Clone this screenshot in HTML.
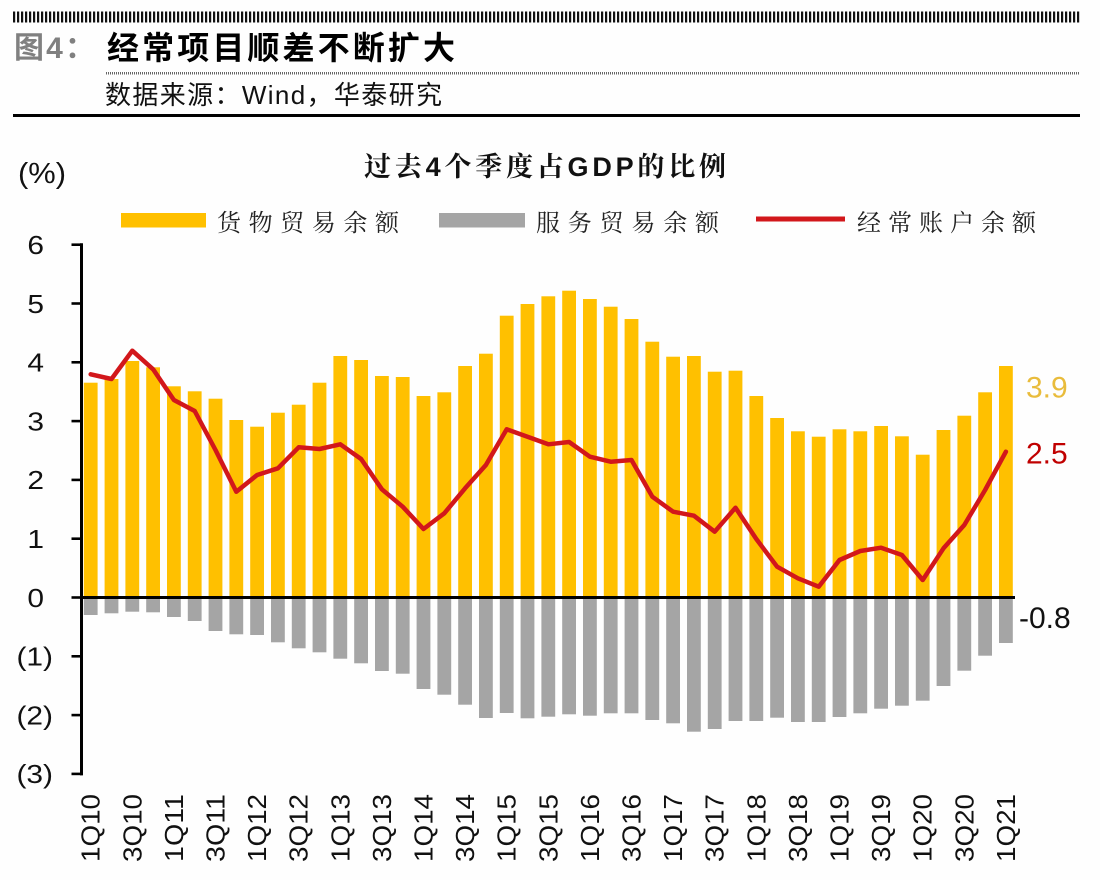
<!DOCTYPE html>
<html>
<head>
<meta charset="utf-8">
<style>
html,body{margin:0;padding:0;background:#fff;}
svg{display:block;}
</style>
</head>
<body>
<svg width="1100" height="880" viewBox="0 0 1100 880" xmlns="http://www.w3.org/2000/svg">
<defs>
<pattern id="hatch" x="13" y="0" width="4" height="12" patternUnits="userSpaceOnUse"><rect x="0" y="0" width="2.2" height="12" fill="#111"/></pattern>
<pattern id="dots" x="0" y="0" width="2" height="4" patternUnits="userSpaceOnUse"><rect x="0" y="0" width="1" height="4" fill="#666"/></pattern>
</defs>
<rect width="1100" height="880" fill="#fefefe"/>

<rect x="13" y="11.5" width="1067" height="11" fill="url(#hatch)"/>
<text x="14" y="58" font-family="Liberation Sans, Noto Sans CJK SC, sans-serif" font-weight="bold" font-size="30" fill="#808080" textLength="81" lengthAdjust="spacing">图4：</text>
<text x="107" y="59" font-family="Liberation Sans, Noto Sans CJK SC, sans-serif" font-weight="bold" font-size="32" fill="#000" textLength="348" lengthAdjust="spacing">经常项目顺差不断扩大</text>
<rect x="105" y="72" width="975" height="2.5" fill="url(#dots)"/>
<text x="105" y="104" font-family="Liberation Sans, Noto Sans CJK SC, sans-serif" font-size="26" fill="#111" textLength="337" lengthAdjust="spacing">数据来源：Wind，华泰研究</text>
<rect x="13" y="114" width="1067" height="3" fill="#000"/>

<text x="364" y="176" font-family="Liberation Sans, Noto Serif CJK SC, serif" font-weight="bold" font-size="27" fill="#111" textLength="362" lengthAdjust="spacing">过去4个季度占GDP的比例</text>
<text x="18" y="183" font-family="Liberation Sans, sans-serif" font-size="29" fill="#111" textLength="48" lengthAdjust="spacingAndGlyphs">(%)</text>

<rect x="121" y="213" width="85" height="14.5" fill="#FFC000"/>
<text x="217" y="231" font-family="Noto Serif CJK SC, serif" font-size="24" fill="#222" textLength="182" lengthAdjust="spacing">货物贸易余额</text>
<rect x="439" y="213" width="86" height="14.5" fill="#A5A5A5"/>
<text x="536" y="231" font-family="Noto Serif CJK SC, serif" font-size="24" fill="#222" textLength="183" lengthAdjust="spacing">服务贸易余额</text>
<rect x="756" y="216.5" width="89" height="5" fill="#D2171B"/>
<text x="857" y="231" font-family="Noto Serif CJK SC, serif" font-size="24" fill="#222" textLength="179" lengthAdjust="spacing">经常账户余额</text>

<g fill="#FFC000">
<rect x="83.8" y="382.7" width="13.8" height="214.8"/>
<rect x="104.6" y="379" width="13.8" height="218.5"/>
<rect x="125.4" y="361" width="13.8" height="236.5"/>
<rect x="146.2" y="367.3" width="13.8" height="230.2"/>
<rect x="167.0" y="386.3" width="13.8" height="211.2"/>
<rect x="187.8" y="391.3" width="13.8" height="206.2"/>
<rect x="208.6" y="398.7" width="13.8" height="198.8"/>
<rect x="229.4" y="420" width="13.8" height="177.5"/>
<rect x="250.2" y="426.7" width="13.8" height="170.8"/>
<rect x="271.0" y="412.7" width="13.8" height="184.8"/>
<rect x="291.8" y="404.7" width="13.8" height="192.8"/>
<rect x="312.6" y="382.7" width="13.8" height="214.8"/>
<rect x="333.4" y="356" width="13.8" height="241.5"/>
<rect x="354.2" y="360" width="13.8" height="237.5"/>
<rect x="375.0" y="376" width="13.8" height="221.5"/>
<rect x="395.8" y="377" width="13.8" height="220.5"/>
<rect x="416.6" y="396" width="13.8" height="201.5"/>
<rect x="437.4" y="392.3" width="13.8" height="205.2"/>
<rect x="458.2" y="366" width="13.8" height="231.5"/>
<rect x="479.0" y="353.7" width="13.8" height="243.8"/>
<rect x="499.8" y="315.7" width="13.8" height="281.8"/>
<rect x="520.6" y="304" width="13.8" height="293.5"/>
<rect x="541.4" y="296.3" width="13.8" height="301.2"/>
<rect x="562.2" y="290.7" width="13.8" height="306.8"/>
<rect x="583.0" y="299" width="13.8" height="298.5"/>
<rect x="603.8" y="306.7" width="13.8" height="290.8"/>
<rect x="624.6" y="319" width="13.8" height="278.5"/>
<rect x="645.4" y="341.7" width="13.8" height="255.8"/>
<rect x="666.2" y="356.7" width="13.8" height="240.8"/>
<rect x="687.0" y="356" width="13.8" height="241.5"/>
<rect x="707.8" y="371.7" width="13.8" height="225.8"/>
<rect x="728.6" y="370.7" width="13.8" height="226.8"/>
<rect x="749.4" y="396" width="13.8" height="201.5"/>
<rect x="770.2" y="418" width="13.8" height="179.5"/>
<rect x="791.0" y="431.3" width="13.8" height="166.2"/>
<rect x="811.8" y="436.7" width="13.8" height="160.8"/>
<rect x="832.6" y="429.3" width="13.8" height="168.2"/>
<rect x="853.4" y="431.3" width="13.8" height="166.2"/>
<rect x="874.2" y="426" width="13.8" height="171.5"/>
<rect x="895.0" y="436.3" width="13.8" height="161.2"/>
<rect x="915.8" y="454.7" width="13.8" height="142.8"/>
<rect x="936.6" y="430" width="13.8" height="167.5"/>
<rect x="957.4" y="415.7" width="13.8" height="181.8"/>
<rect x="978.2" y="392.3" width="13.8" height="205.2"/>
<rect x="999.0" y="366" width="13.8" height="231.5"/>
</g>

<g fill="#A5A5A5">
<rect x="83.8" y="597.5" width="13.8" height="17.5"/>
<rect x="104.6" y="597.5" width="13.8" height="15.8"/>
<rect x="125.4" y="597.5" width="13.8" height="14.2"/>
<rect x="146.2" y="597.5" width="13.8" height="14.8"/>
<rect x="167.0" y="597.5" width="13.8" height="19.5"/>
<rect x="187.8" y="597.5" width="13.8" height="23.5"/>
<rect x="208.6" y="597.5" width="13.8" height="33.5"/>
<rect x="229.4" y="597.5" width="13.8" height="36.8"/>
<rect x="250.2" y="597.5" width="13.8" height="37.5"/>
<rect x="271.0" y="597.5" width="13.8" height="44.8"/>
<rect x="291.8" y="597.5" width="13.8" height="50.8"/>
<rect x="312.6" y="597.5" width="13.8" height="54.8"/>
<rect x="333.4" y="597.5" width="13.8" height="61.2"/>
<rect x="354.2" y="597.5" width="13.8" height="65.8"/>
<rect x="375.0" y="597.5" width="13.8" height="73.5"/>
<rect x="395.8" y="597.5" width="13.8" height="76.2"/>
<rect x="416.6" y="597.5" width="13.8" height="91.5"/>
<rect x="437.4" y="597.5" width="13.8" height="97.2"/>
<rect x="458.2" y="597.5" width="13.8" height="107.2"/>
<rect x="479.0" y="597.5" width="13.8" height="120.5"/>
<rect x="499.8" y="597.5" width="13.8" height="115.5"/>
<rect x="520.6" y="597.5" width="13.8" height="120.8"/>
<rect x="541.4" y="597.5" width="13.8" height="119.2"/>
<rect x="562.2" y="597.5" width="13.8" height="116.8"/>
<rect x="583.0" y="597.5" width="13.8" height="118.2"/>
<rect x="603.8" y="597.5" width="13.8" height="115.8"/>
<rect x="624.6" y="597.5" width="13.8" height="115.8"/>
<rect x="645.4" y="597.5" width="13.8" height="122.5"/>
<rect x="666.2" y="597.5" width="13.8" height="125.8"/>
<rect x="687.0" y="597.5" width="13.8" height="134.2"/>
<rect x="707.8" y="597.5" width="13.8" height="131.5"/>
<rect x="728.6" y="597.5" width="13.8" height="123.5"/>
<rect x="749.4" y="597.5" width="13.8" height="123.5"/>
<rect x="770.2" y="597.5" width="13.8" height="120.2"/>
<rect x="791.0" y="597.5" width="13.8" height="124.5"/>
<rect x="811.8" y="597.5" width="13.8" height="124.5"/>
<rect x="832.6" y="597.5" width="13.8" height="119.5"/>
<rect x="853.4" y="597.5" width="13.8" height="115.8"/>
<rect x="874.2" y="597.5" width="13.8" height="111.2"/>
<rect x="895.0" y="597.5" width="13.8" height="108.2"/>
<rect x="915.8" y="597.5" width="13.8" height="103.2"/>
<rect x="936.6" y="597.5" width="13.8" height="88.5"/>
<rect x="957.4" y="597.5" width="13.8" height="73.2"/>
<rect x="978.2" y="597.5" width="13.8" height="58.2"/>
<rect x="999.0" y="597.5" width="13.8" height="45.5"/>
</g>

<line x1="80" y1="597.5" x2="1015" y2="597.5" stroke="#000" stroke-width="3"/>
<line x1="81.5" y1="243.2" x2="81.5" y2="775.4" stroke="#000" stroke-width="3"/>
<g stroke="#000" stroke-width="2.6">
<line x1="71.5" y1="244.7" x2="81.5" y2="244.7"/>
<line x1="71.5" y1="303.5" x2="81.5" y2="303.5"/>
<line x1="71.5" y1="362.3" x2="81.5" y2="362.3"/>
<line x1="71.5" y1="421.1" x2="81.5" y2="421.1"/>
<line x1="71.5" y1="479.9" x2="81.5" y2="479.9"/>
<line x1="71.5" y1="538.7" x2="81.5" y2="538.7"/>
<line x1="71.5" y1="597.5" x2="81.5" y2="597.5"/>
<line x1="71.5" y1="656.3" x2="81.5" y2="656.3"/>
<line x1="71.5" y1="715.1" x2="81.5" y2="715.1"/>
<line x1="71.5" y1="773.9" x2="81.5" y2="773.9"/>
</g>

<g font-family="Liberation Sans, sans-serif" font-size="26" fill="#111" text-anchor="end">
<text transform="translate(44,254) scale(1.15,1)">6</text>
<text transform="translate(44,312.8) scale(1.15,1)">5</text>
<text transform="translate(44,371.6) scale(1.15,1)">4</text>
<text transform="translate(44,430.4) scale(1.15,1)">3</text>
<text transform="translate(44,489.2) scale(1.15,1)">2</text>
<text transform="translate(44,548) scale(1.15,1)">1</text>
<text transform="translate(44,606.8) scale(1.15,1)">0</text>
<text transform="translate(53,665.6) scale(1.15,1)">(1)</text>
<text transform="translate(53,724.4) scale(1.15,1)">(2)</text>
<text transform="translate(53,783.2) scale(1.15,1)">(3)</text>
</g>

<polyline fill="none" stroke="#D2171B" stroke-width="4.5" stroke-linejoin="round" stroke-linecap="round" points="90.7,374.3 111.5,379 132.3,350.7 153.1,369.3 173.9,400 194.7,411 215.5,450 236.3,491.7 257.1,475 277.9,468.3 298.7,447.3 319.5,449 340.3,444.3 361.1,459 381.9,489.3 402.7,506.7 423.5,529 444.3,513.3 465.1,488.3 485.9,465 506.7,429.3 527.5,436.7 548.3,444.3 569.1,442 589.9,456.7 610.7,461.7 631.5,460 652.3,496.7 673.1,511.7 693.9,515.7 714.7,531.7 735.5,507.7 756.3,539 777.1,566.7 797.9,578.3 818.7,586.7 839.5,560 860.3,551 881.1,547.7 901.9,555 922.7,580 943.5,548.3 964.3,525 985.1,490 1005.9,451.7"/>

<g font-family="Liberation Sans, sans-serif" font-size="30">
<text x="1026" y="397.5" fill="#E9BC3C">3.9</text>
<text x="1026" y="463.5" fill="#C00000">2.5</text>
<text x="1019" y="628" fill="#111">-0.8</text>
</g>

<g font-family="Liberation Sans, sans-serif" font-size="26" fill="#111">
<text transform="translate(99.7,862) rotate(-90)" textLength="68" lengthAdjust="spacingAndGlyphs">1Q10</text>
<text transform="translate(141.3,862) rotate(-90)" textLength="68" lengthAdjust="spacingAndGlyphs">3Q10</text>
<text transform="translate(182.9,862) rotate(-90)" textLength="68" lengthAdjust="spacingAndGlyphs">1Q11</text>
<text transform="translate(224.5,862) rotate(-90)" textLength="68" lengthAdjust="spacingAndGlyphs">3Q11</text>
<text transform="translate(266.1,862) rotate(-90)" textLength="68" lengthAdjust="spacingAndGlyphs">1Q12</text>
<text transform="translate(307.7,862) rotate(-90)" textLength="68" lengthAdjust="spacingAndGlyphs">3Q12</text>
<text transform="translate(349.3,862) rotate(-90)" textLength="68" lengthAdjust="spacingAndGlyphs">1Q13</text>
<text transform="translate(390.9,862) rotate(-90)" textLength="68" lengthAdjust="spacingAndGlyphs">3Q13</text>
<text transform="translate(432.5,862) rotate(-90)" textLength="68" lengthAdjust="spacingAndGlyphs">1Q14</text>
<text transform="translate(474.1,862) rotate(-90)" textLength="68" lengthAdjust="spacingAndGlyphs">3Q14</text>
<text transform="translate(515.7,862) rotate(-90)" textLength="68" lengthAdjust="spacingAndGlyphs">1Q15</text>
<text transform="translate(557.3,862) rotate(-90)" textLength="68" lengthAdjust="spacingAndGlyphs">3Q15</text>
<text transform="translate(598.9,862) rotate(-90)" textLength="68" lengthAdjust="spacingAndGlyphs">1Q16</text>
<text transform="translate(640.5,862) rotate(-90)" textLength="68" lengthAdjust="spacingAndGlyphs">3Q16</text>
<text transform="translate(682.1,862) rotate(-90)" textLength="68" lengthAdjust="spacingAndGlyphs">1Q17</text>
<text transform="translate(723.7,862) rotate(-90)" textLength="68" lengthAdjust="spacingAndGlyphs">3Q17</text>
<text transform="translate(765.3,862) rotate(-90)" textLength="68" lengthAdjust="spacingAndGlyphs">1Q18</text>
<text transform="translate(806.9,862) rotate(-90)" textLength="68" lengthAdjust="spacingAndGlyphs">3Q18</text>
<text transform="translate(848.5,862) rotate(-90)" textLength="68" lengthAdjust="spacingAndGlyphs">1Q19</text>
<text transform="translate(890.1,862) rotate(-90)" textLength="68" lengthAdjust="spacingAndGlyphs">3Q19</text>
<text transform="translate(931.7,862) rotate(-90)" textLength="68" lengthAdjust="spacingAndGlyphs">1Q20</text>
<text transform="translate(973.3,862) rotate(-90)" textLength="68" lengthAdjust="spacingAndGlyphs">3Q20</text>
<text transform="translate(1014.9,862) rotate(-90)" textLength="68" lengthAdjust="spacingAndGlyphs">1Q21</text>
</g>
</svg>
</body>
</html>
